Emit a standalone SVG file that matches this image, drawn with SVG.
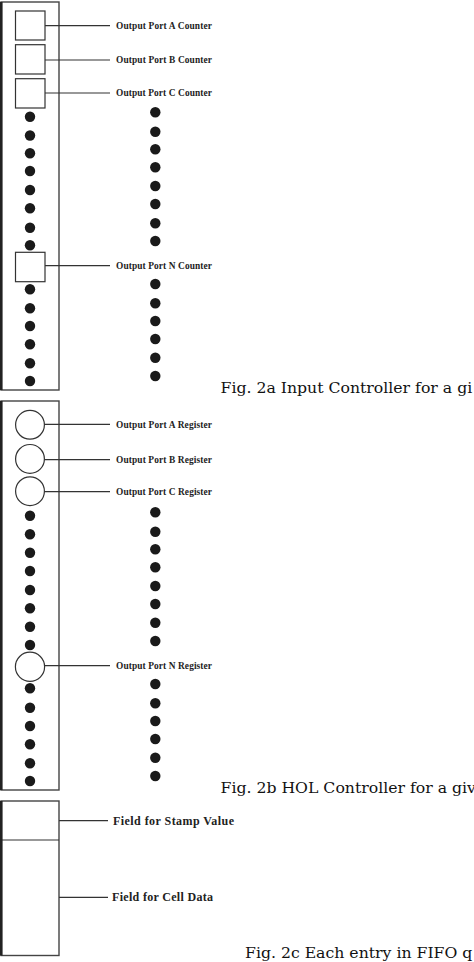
<svg xmlns="http://www.w3.org/2000/svg" width="474" height="962" viewBox="0 0 474 962">
<style>
.box{fill:#fff;stroke:#444;stroke-width:1.4}
.edge{stroke:#222;stroke-width:2.6}
.cell{fill:#fff;stroke:#333;stroke-width:1.2}
.conn{stroke:#333;stroke-width:1.2}
.lbl{font-family:"Liberation Serif",serif;font-weight:bold;font-size:9.4px;fill:#222}
.flbl{font-family:"Liberation Serif",serif;font-weight:bold;font-size:12px;fill:#222}
.cap{font-family:"DejaVu Serif","Liberation Serif",serif;font-size:15.7px;fill:#111}
.dot{fill:#1a1a1a}
</style>
<defs>
<circle id="d" r="5.2" class="dot"/>
</defs>
<rect width="474" height="962" fill="#fff"/>

<!-- Fig 2a -->
<g id="fig2a-box">
<rect class="box" x="1" y="2" width="58" height="388"/>
<line class="edge" x1="1.3" y1="2" x2="1.3" y2="390"/>
</g>
<g id="counterA"><rect class="cell" x="15.5" y="11" width="29.5" height="29"/></g>
<g id="counterB"><rect class="cell" x="15.5" y="44.7" width="29.5" height="29.3"/></g>
<g id="counterC"><rect class="cell" x="15.5" y="78.7" width="29.5" height="29.3"/></g>
<g id="counterN"><rect class="cell" x="15.5" y="252.3" width="29.5" height="29.4"/></g>
<g id="dots2a-left">
<use href="#d" x="30" y="116.7"/><use href="#d" x="30" y="135.5"/><use href="#d" x="30" y="153.3"/><use href="#d" x="30" y="171"/>
<use href="#d" x="30" y="190"/><use href="#d" x="30" y="208.3"/><use href="#d" x="30" y="227.7"/><use href="#d" x="30" y="245.3"/>
<use href="#d" x="30" y="289.3"/><use href="#d" x="30" y="308.3"/><use href="#d" x="30" y="326"/><use href="#d" x="30" y="344.3"/>
<use href="#d" x="30" y="363.3"/><use href="#d" x="30" y="381"/>
</g>
<g id="dots2a-right">
<use href="#d" x="155.3" y="112.3"/><use href="#d" x="155.3" y="131.7"/><use href="#d" x="155.3" y="149.3"/><use href="#d" x="155.3" y="167.3"/>
<use href="#d" x="155.3" y="186"/><use href="#d" x="155.3" y="204"/><use href="#d" x="155.3" y="223.3"/><use href="#d" x="155.3" y="241"/>
<use href="#d" x="155.3" y="284"/><use href="#d" x="155.3" y="303.3"/><use href="#d" x="155.3" y="321"/><use href="#d" x="155.3" y="339"/>
<use href="#d" x="155.3" y="357.7"/><use href="#d" x="155.3" y="376"/>
</g>
<g id="label-counterA"><text class="lbl" x="116" y="28.8" textLength="96">Output Port A Counter</text></g>
<g id="label-counterB"><text class="lbl" x="116" y="63" textLength="96">Output Port B Counter</text></g>
<g id="label-counterC"><text class="lbl" x="116" y="95.8" textLength="96">Output Port C Counter</text></g>
<g id="label-counterN"><text class="lbl" x="116" y="268.8" textLength="96">Output Port N Counter</text></g>
<g id="caption2a"><text class="cap" x="220.5" y="393.3">Fig. 2a Input Controller for a gi</text></g>

<!-- Fig 2b -->
<g id="fig2b-box">
<rect class="box" x="1" y="401" width="58" height="389"/>
<line class="edge" x1="1.3" y1="401" x2="1.3" y2="790"/>
</g>
<g id="registerA"><circle class="cell" cx="30" cy="424.8" r="14.4"/></g>
<g id="registerB"><circle class="cell" cx="30" cy="458.9" r="14.4"/></g>
<g id="registerC"><circle class="cell" cx="30" cy="491.2" r="14.4"/></g>
<g id="registerN"><circle class="cell" cx="30" cy="666.8" r="14.6"/></g>
<g id="dots2b-left">
<use href="#d" x="30" y="515.7"/><use href="#d" x="30" y="534.3"/><use href="#d" x="30" y="552.7"/><use href="#d" x="30" y="571"/>
<use href="#d" x="30" y="590"/><use href="#d" x="30" y="608.3"/><use href="#d" x="30" y="626.7"/><use href="#d" x="30" y="645"/>
<use href="#d" x="30" y="688.3"/><use href="#d" x="30" y="707.7"/><use href="#d" x="30" y="726"/><use href="#d" x="30" y="744.3"/>
<use href="#d" x="30" y="763.3"/><use href="#d" x="30" y="781"/>
</g>
<g id="dots2b-right">
<use href="#d" x="155.3" y="512.3"/><use href="#d" x="155.3" y="531.7"/><use href="#d" x="155.3" y="549.3"/><use href="#d" x="155.3" y="567.3"/>
<use href="#d" x="155.3" y="586"/><use href="#d" x="155.3" y="604"/><use href="#d" x="155.3" y="622.7"/><use href="#d" x="155.3" y="641"/>
<use href="#d" x="155.3" y="684"/><use href="#d" x="155.3" y="703.3"/><use href="#d" x="155.3" y="721"/><use href="#d" x="155.3" y="739"/>
<use href="#d" x="155.3" y="757.7"/><use href="#d" x="155.3" y="776"/>
</g>
<g id="label-registerA"><text class="lbl" x="116" y="427.6" textLength="96">Output Port A Register</text></g>
<g id="label-registerB"><text class="lbl" x="116" y="462.8" textLength="96">Output Port B Register</text></g>
<g id="label-registerC"><text class="lbl" x="116" y="494.8" textLength="96">Output Port C Register</text></g>
<g id="label-registerN"><text class="lbl" x="116" y="668.8" textLength="96">Output Port N Register</text></g>
<g id="caption2b"><text class="cap" x="220.5" y="793.3">Fig. 2b HOL Controller for a giv</text></g>

<!-- Fig 2c -->
<g id="fig2c-entry">
<rect class="box" x="1" y="801" width="58" height="154.5"/>
<line class="conn" x1="1" y1="840" x2="59" y2="840"/>
<line class="edge" x1="1.3" y1="801" x2="1.3" y2="955.5"/>
</g>
<g id="label-stamp"><text class="flbl" x="113" y="824.6" textLength="121">Field for Stamp Value</text></g>
<g id="label-celldata"><text class="flbl" x="112" y="901.2" textLength="101">Field for Cell Data</text></g>
<g id="caption2c"><text class="cap" x="245" y="957.5">Fig. 2c Each entry in FIFO q</text></g>

<g id="connectors">
<line class="conn" x1="45" y1="25.7" x2="110" y2="25.7"/>
<line class="conn" x1="45" y1="60" x2="110" y2="60"/>
<line class="conn" x1="45" y1="93" x2="110" y2="93"/>
<line class="conn" x1="45" y1="265.7" x2="110" y2="265.7"/>
<line class="conn" x1="44.4" y1="424.3" x2="110" y2="424.3"/>
<line class="conn" x1="44.4" y1="459.7" x2="110" y2="459.7"/>
<line class="conn" x1="44.4" y1="491.7" x2="110" y2="491.7"/>
<line class="conn" x1="44.6" y1="665.7" x2="110" y2="665.7"/>
<line class="conn" x1="59" y1="820.7" x2="108" y2="820.7"/>
<line class="conn" x1="59" y1="897.3" x2="108" y2="897.3"/>
</g>
</svg>
